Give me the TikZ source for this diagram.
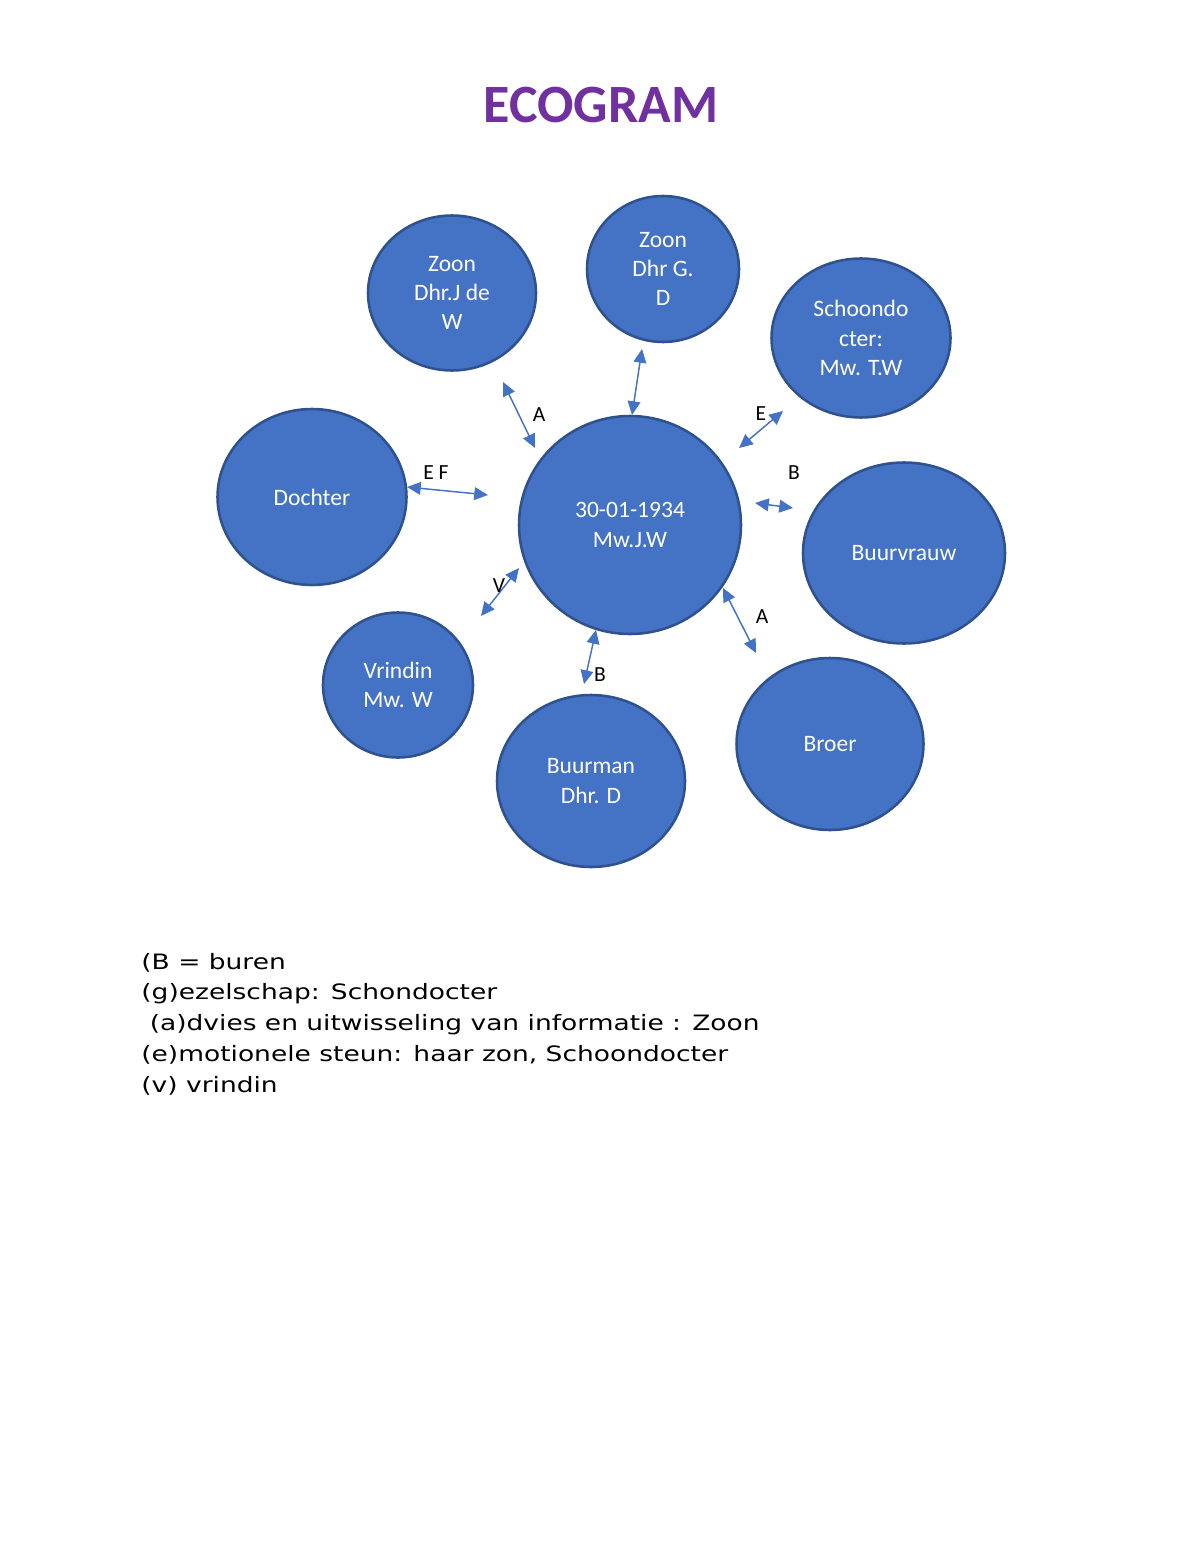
\documentclass[tikz,border=0pt]{standalone}
\usepackage{fontspec}
\setmainfont{DejaVu Sans}
\newfontfamily\calibri{Carlito}
\newfontfamily\legendfont[FakeStretch=1.25]{DejaVu Sans}
\usetikzlibrary{positioning}
\usetikzlibrary{shapes.geometric}
\usetikzlibrary{arrows.meta}
\definecolor{circleblue}{HTML}{4472C4}
\definecolor{circleline}{HTML}{2F528F}
\definecolor{titlepurple}{HTML}{7030A0}
\tikzset{
	person/.style 2 args={ellipse,draw=circleline,line width=1.3pt,fill=circleblue,text=white,inner sep=0pt,
		minimum width=#1*0.51pt,minimum height=#2*0.51pt,align=center,font=\calibri\fontsize{12}{15}\selectfont},
	link/.style={{Triangle[length=7pt,width=6.5pt]}-{Triangle[length=7pt,width=6.5pt]},draw=circleblue,line width=0.75pt},
	lbl/.style={font=\calibri\fontsize{11}{13}\selectfont,inner sep=0pt},
	legend/.style={anchor=base west,inner sep=0pt,font=\legendfont\fontsize{10.8}{12}\selectfont},
}

\begin{document}
\begin{tikzpicture}[x=0.51pt,y=-0.51pt]
	\useasboundingbox (0,0) rectangle (1200,1553);
	
	% title.....................
	\node [text=titlepurple, font=\calibri\bfseries\fontsize{27.5}{30}\selectfont] (title) at (601,105) {ECOGRAM};
	
	% circles....................
	\node [person={222}{218}] (mw) at (630,525) {30-01-1934\\Mw.J.W};
	\node [person={168}{155}] (zoonj) at (452,293) {Zoon\\Dhr.J de\\W};
	\node [person={152}{146}] (zoong) at (663,269) {Zoon\\Dhr G.\\D};
	\node [person={179}{159}] (schoon) at (861,338) {Schoondo\\cter:\\Mw. T.W};
	\node [person={189}{176}] (dochter) at (312,497) {Dochter};
	\node [person={202}{181}] (buurvr) at (904,553) {Buurvrauw};
	\node [person={150}{145}] (vrindin) at (398,685) {Vrindin\\Mw. W};
	\node [person={188}{172}] (buurman) at (591,781) {Buurman\\Dhr. D};
	\node [person={187}{172}] (broer) at (830,744) {Broer};
	
	% arrow ends.................
	\coordinate (zj1) at (503,382); \coordinate (zj2) at (535,448);
	\coordinate (zg1) at (642,349); \coordinate (zg2) at (632,415);
	\coordinate (sc1) at (783,411); \coordinate (sc2) at (739,448);
	\coordinate (do1) at (407,487); \coordinate (do2) at (488,495);
	\coordinate (bv1) at (755,503); \coordinate (bv2) at (793,508);
	\coordinate (vr1) at (481,616); \coordinate (vr2) at (519,568);
	\coordinate (bm1) at (596,630); \coordinate (bm2) at (584,684);
	\coordinate (br1) at (723,588); \coordinate (br2) at (756,653);
	
	% arrows......................
	\draw [link] (zj1) -- (zj2);
	\draw [link] (zg1) -- (zg2);
	\draw [link] (sc1) -- (sc2);
	\draw [link] (do1) -- (do2);
	\draw [link] (bv1) -- (bv2);
	\draw [link] (vr1) -- (vr2);
	\draw [link] (bm1) -- (bm2);
	\draw [link] (br1) -- (br2);
	
	% labels......................
	\node [lbl] (lzj) at (539,415) {A};
	\node [lbl] (lsc) at (761,414) {E};
	\node [lbl] (ldo) at (436,473) {E F};
	\node [lbl] (lbv) at (794,473) {B};
	\node [lbl] (lvr) at (499,586) {V};
	\node [lbl] (lbm) at (600,675) {B};
	\node [lbl] (lbr) at (762,617) {A};
	
	% legend......................
	\foreach \txt [count=\i] in {{(B = buren}, {(g)ezelschap: Schondocter}, {\ (a)dvies en uitwisseling van informatie : Zoon}, {(e)motionele steun: haar zon, Schoondocter}, {(v) vrindin}}
		\node [legend] (leg\i) at (141,969+30.75*\i-30.75) {\txt};
\end{tikzpicture}
\end{document}
